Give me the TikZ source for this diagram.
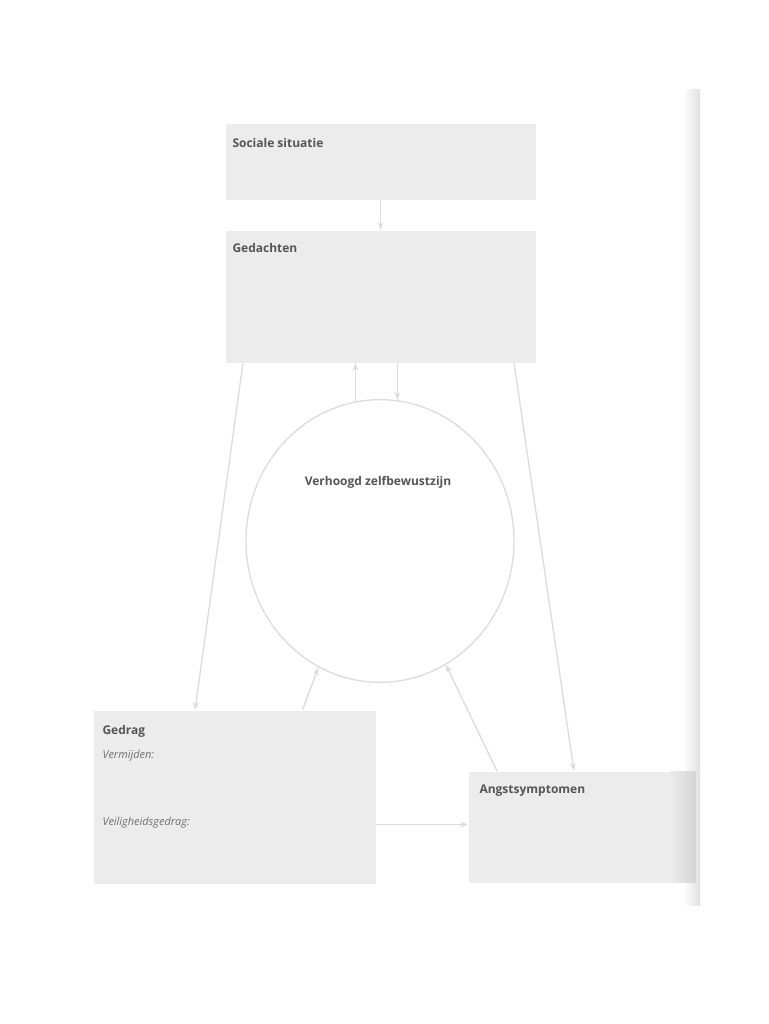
\documentclass[tikz,border=0pt]{standalone}
\usepackage{fontspec}
\setmainfont{Open Sans}
\usetikzlibrary{arrows.meta,shapes.geometric,calc}
\definecolor{boxgray}{RGB}{236,236,236}
\definecolor{linegray}{RGB}{220,220,220}
\definecolor{txtgray}{RGB}{85,85,85}
\tikzset{every picture/.style={line width=0.75pt}}
\tikzset{
  box/.style={fill=boxgray, draw=none, anchor=north west, inner sep=0pt},
  hdr/.style={anchor=west, inner sep=0.75pt, text=txtgray, font=\bfseries\fontsize{9}{10}\selectfont},
  sub/.style={anchor=west, inner sep=0.75pt, text=txtgray!85, font=\itshape\fontsize{8.2}{10}\selectfont},
  arr/.style={draw=linegray, line width=1pt, -{Stealth[length=6pt,width=4.5pt]}}
}

\begin{document}
\begin{tikzpicture}[x=0.75pt,y=0.75pt,yscale=-1,xscale=1]
\useasboundingbox (0,0) rectangle (768,1024);

%Shape: Page edge
\shade [left color=white, right color=black!12] (683,90) rectangle (700,905);

%Shape: Rectangles
\node [box, minimum width=232.5pt, minimum height=57pt] (soc) at (225,123) {};
\node [box, minimum width=232.5pt, minimum height=99pt] (ged) at (225,230) {};
\node [box, minimum width=211.5pt, minimum height=129.75pt] (gedr) at (93,710) {};
\node [box, minimum width=171pt, minimum height=83.25pt] (angst) at (468,771) {};
\shade [left color=boxgray, right color=black!17] (670,771) rectangle (696,882);

%Shape: Ellipse
\node [ellipse, draw=linegray, line width=1pt, minimum width=201pt, minimum height=212pt, inner sep=0pt] (zelf) at (380,541) {};

%Straight Lines
\draw [arr] (soc.south) -- (ged.north);
\draw [arr] (zelf.100) -- (zelf.100 |- ged.south);
\draw [arr] (zelf.83 |- ged.south) -- (zelf.83);
\draw [arr] ($(ged.south west)+(18,0)$) -- ($(gedr.north west)+(102,0)$);
\draw [arr] ($(ged.south east)+(-22,0)$) -- ($(angst.north west)+(106,0)$);
\draw [arr] ($(gedr.north)+(68,0)$) -- (zelf.244);
\draw [arr] ($(angst.north west)+(29,0)$) -- (zelf.298);
\draw [arr] ([yshift=20.6pt]gedr.east) -- ([yshift=20.6pt]gedr.east -| angst.west);

% Text Node
\node [hdr] (tsoc) at (231,143) {Sociale situatie};
% Text Node
\node [hdr] (tged) at (231,248) {Gedachten};
% Text Node
\node [hdr, anchor=center] (tzelf) at (378,482) {Verhoogd zelfbewustzijn};
% Text Node
\node [hdr] (tgedr) at (101,731) {Gedrag};
% Text Node
\node [sub] (tverm) at (101,756) {Vermijden:};
% Text Node
\node [sub] (tveil) at (101,823) {Veiligheidsgedrag:};
% Text Node
\node [hdr] (tangst) at (478,791) {Angstsymptomen};

\end{tikzpicture}
\end{document}
